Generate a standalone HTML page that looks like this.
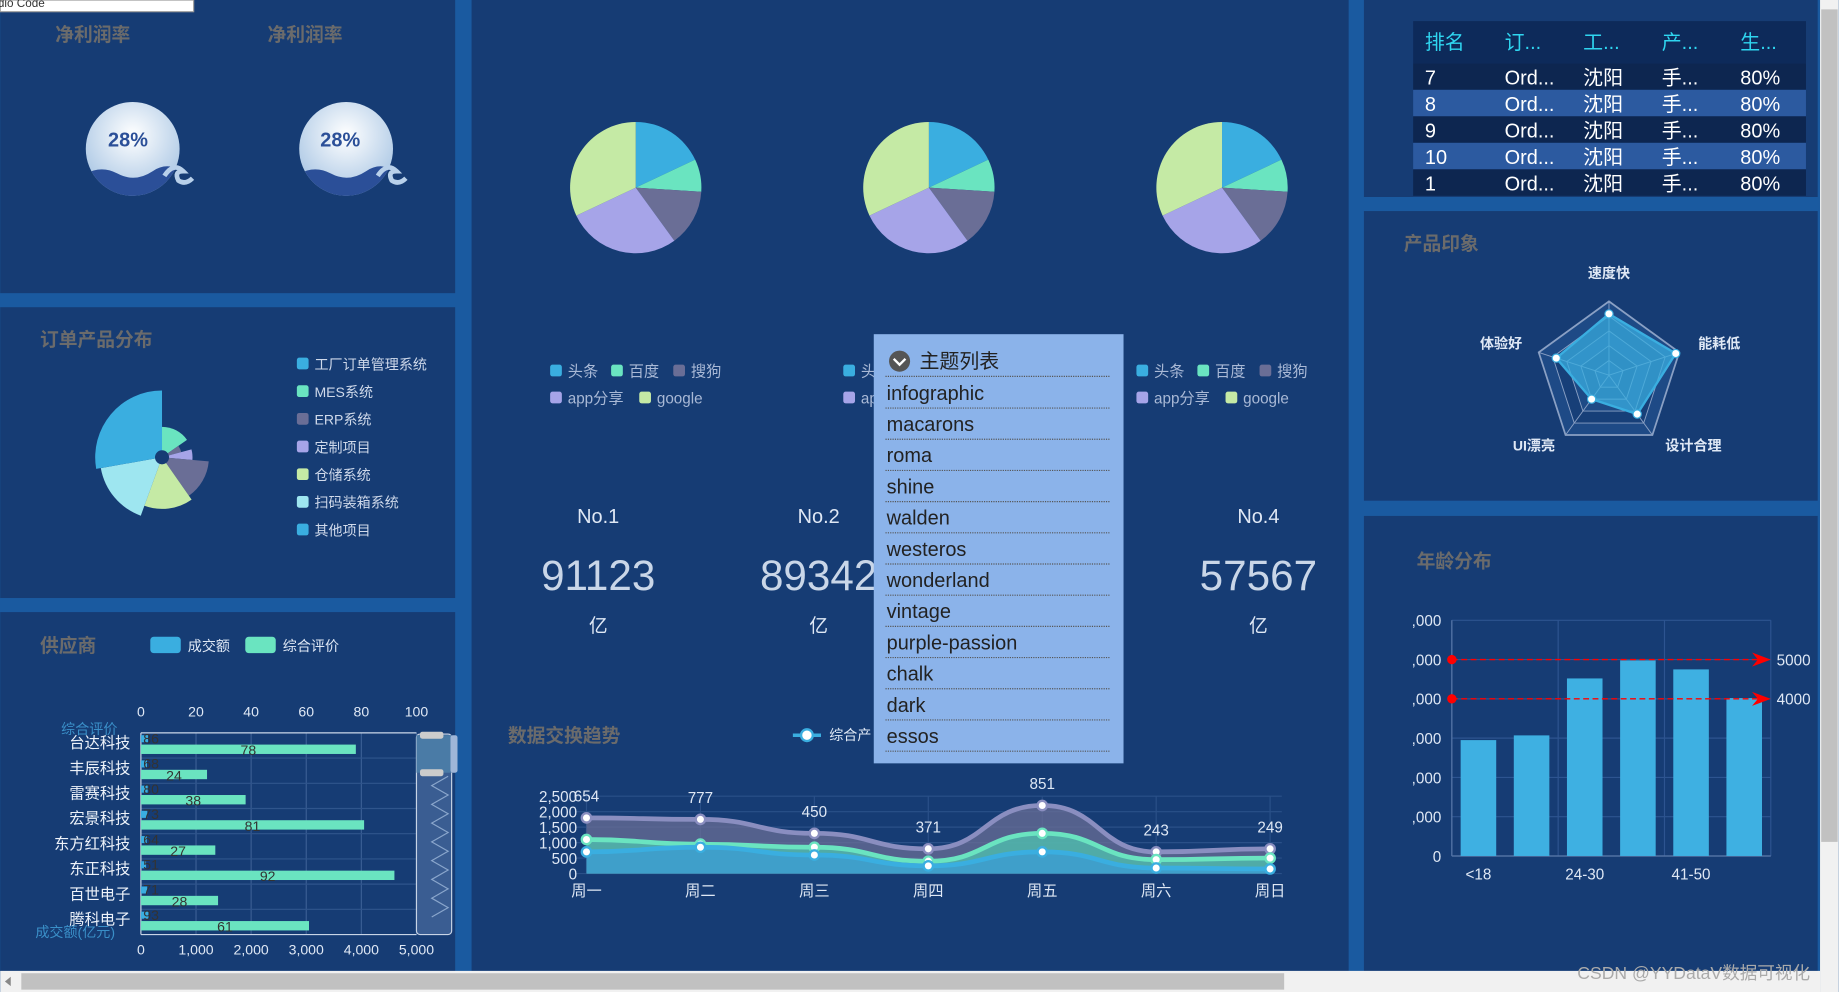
<!DOCTYPE html>
<html><head><meta charset="utf-8">
<style>
html,body{margin:0;padding:0;background:#1a5aa0;overflow:hidden;}
svg{display:block;font-family:"Liberation Sans","Noto Sans CJK SC",sans-serif;}
</style></head>
<body>
<svg id="s" width="1839" height="992" viewBox="0 0 1568 846" xmlns="http://www.w3.org/2000/svg">
<defs>
<radialGradient id="ballg" cx="50%" cy="35%" r="65%"><stop offset="0" stop-color="#ffffff"/><stop offset="1" stop-color="#a9c6e4"/></radialGradient>
<clipPath id="c1"><circle cx="113" cy="127" r="40"/></clipPath>
<clipPath id="c2"><circle cx="295" cy="127" r="40"/></clipPath>
</defs>
<rect x="0" y="0" width="1568" height="846" fill="#1a5aa0"/>
<rect x="0" y="0" width="388" height="250" fill="#163c74"/>
<rect x="0" y="262" width="388" height="248" fill="#163c74"/>
<rect x="0" y="522" width="388" height="306" fill="#163c74"/>
<rect x="402" y="0" width="748" height="828" fill="#163c74"/>
<rect x="1163" y="0" width="387" height="168" fill="#163c74"/>
<rect x="1163" y="180" width="387" height="247" fill="#163c74"/>
<rect x="1163" y="440" width="387" height="388" fill="#163c74"/>
<rect x="0" y="0" width="165" height="10" fill="#ffffff" stroke="#999"/>
<text x="-2" y="6" font-size="10" fill="#333">dio Code</text>

<g>
<text x="47" y="35" font-size="16" font-weight="bold" fill="#6b6b6b">净利润率</text>
<circle cx="113" cy="127" r="40" fill="url(#ballg)"/>
<path clip-path="url(#c1)" d="M70 150 Q85 140 100 148 T130 146 T160 150 L160 175 L70 175 Z" fill="#2b4f98"/>
<path d="M140 150 q8 -12 16 -4 q-8 0 -4 8 q6 4 12 -2" fill="none" stroke="#b8d0ea" stroke-width="4"/>
<text x="109" y="125" font-size="17" font-weight="bold" fill="#2b4f98" text-anchor="middle">28%</text>
</g>
<g>
<text x="228" y="35" font-size="16" font-weight="bold" fill="#6b6b6b">净利润率</text>
<circle cx="295" cy="127" r="40" fill="url(#ballg)"/>
<path clip-path="url(#c2)" d="M252 150 Q267 140 282 148 T312 146 T342 150 L342 175 L252 175 Z" fill="#2b4f98"/>
<path d="M322 150 q8 -12 16 -4 q-8 0 -4 8 q6 4 12 -2" fill="none" stroke="#b8d0ea" stroke-width="4"/>
<text x="290" y="125" font-size="17" font-weight="bold" fill="#2b4f98" text-anchor="middle">28%</text>
</g>

<text x="34" y="295" font-size="16" font-weight="bold" fill="#6b6b6b">订单产品分布</text>
<g id="rose"></g>

<text x="34" y="556" font-size="16" font-weight="bold" fill="#6b6b6b">供应商</text>
<g>
<rect x="128" y="543" width="26" height="14" rx="3" fill="#3aaee0"/><text x="160" y="555" font-size="12" fill="#dfe8f5">成交额</text>
<rect x="209" y="543" width="26" height="14" rx="3" fill="#6ae4c0"/><text x="241" y="555" font-size="12" fill="#dfe8f5">综合评价</text>
</g>
<g id="supplier"></g>

<g id="pies"></g>
<g id="nums"></g>

<text x="433" y="633" font-size="16" font-weight="bold" fill="#6b6b6b">数据交换趋势</text>
<g>
<line x1="676" y1="627" x2="700" y2="627" stroke="#3aaee0" stroke-width="3"/><circle cx="688" cy="627" r="5" fill="#fff" stroke="#3aaee0" stroke-width="2"/>
<text x="707" y="631" font-size="12" fill="#dfe8f5">综合产</text>
</g>
<g id="trend"></g>

<g id="popup">
<rect x="745" y="285" width="213" height="366" fill="#8bb3ea"/>
<circle cx="767" cy="308" r="9" fill="#555"/>
<path d="M762 306 l5 5 l5 -5" fill="none" stroke="#fff" stroke-width="2"/>
<text x="784" y="314" font-size="17" fill="#222">主题列表</text>
<line x1="755" y1="321" x2="947" y2="321" stroke="#555" stroke-dasharray="1,1"/>
</g>

<g id="table"></g>

<text x="1197" y="213" font-size="16" font-weight="bold" fill="#6b6b6b">产品印象</text>
<g id="radar"></g>

<text x="1208" y="484" font-size="16" font-weight="bold" fill="#6b6b6b">年龄分布</text>
<g id="age"></g>

<rect x="1552" y="0" width="16" height="846" fill="#f1f1f1"/>
<rect x="1553" y="8" width="14" height="710" fill="#c1c1c1"/>
<rect x="0" y="828" width="1552" height="18" fill="#f1f1f1"/>
<rect x="18" y="830" width="1077" height="14" fill="#c1c1c1"/>
<path d="M4 837 l5 -4 v8 z" fill="#888"/>
<text x="1345" y="835" font-size="15" fill="#aaa">CSDN @YYDataV数据可视化</text>
</svg>
<script>
const NS='http://www.w3.org/2000/svg';
function mk(p,tag,at,txt){const e=document.createElementNS(NS,tag);for(const k in at)e.setAttribute(k,at[k]);if(txt!==undefined)e.textContent=txt;p.appendChild(e);return e;}
function pt(cx,cy,r,a){const t=(a-90)*Math.PI/180;return [cx+r*Math.cos(t),cy+r*Math.sin(t)];}
function arc(cx,cy,r,a0,a1){const p0=pt(cx,cy,r,a0),p1=pt(cx,cy,r,a1);const lg=(a1-a0)>180?1:0;return `M${cx},${cy} L${p0[0]},${p0[1]} A${r},${r} 0 ${lg} 1 ${p1[0]},${p1[1]} Z`;}

/* ---- rose chart data ---- */
const roseNames=['工厂订单管理系统','MES系统','ERP系统','定制项目','仓储系统','扫码装箱系统','其他项目'];
const roseLegendColors=['#3aaee0','#6ae4c0','#6a6e96','#a6a4e8','#c5eaa5','#9ee6f0','#3aaee0'];
const roseSliceValues=[26,17,26,40,44,53,57];
const roseSliceAngles=[55,20,20,50,55,60,100];
const roseSliceColors=['#6ae4c0','#6a6e96','#a6a4e8','#6a6e96','#c5eaa5','#9ee6f0','#3aaee0'];
(function(){const g=document.getElementById('rose');let a=0;
 for(let i=0;i<roseSliceValues.length;i++){const a1=a+roseSliceAngles[i];
  const e=mk(g,'path',{d:arc(138,390,roseSliceValues[i],a,a1),fill:roseSliceColors[i]});
  
  
  a=a1;}
 mk(g,'circle',{cx:138,cy:390,r:6,fill:'#163c74'});
 for(let i=0;i<roseNames.length;i++){const y=310+i*23.6;
  const it=mk(g,'g',{});
  
  
  mk(it,'rect',{x:253,y:y-5,width:10,height:10,rx:2,fill:roseLegendColors[i]});
  mk(it,'text',{x:268,y:y+5,'font-size':12,fill:'#cfd9ea'},roseNames[i]);}
})();

/* ---- supplier chart data ---- */
const supNames=['台达科技','丰辰科技','雷赛科技','宏景科技','东方红科技','东正科技','百世电子','腾科电子'];
const supAmount=[86,68,80,73,64,51,71,93];
const supScore=[78,24,38,81,27,92,28,61];
const supTopTicks=[0,20,40,60,80,100];
const supBotTicks=['0','1,000','2,000','3,000','4,000','5,000'];
(function(){const g=document.getElementById('supplier');const x0=120,x1=355,y0=625,y1=797;const rh=(y1-y0)/supNames.length;
 const xs=v=>x0+v/100*(x1-x0), xa=v=>x0+v/5000*(x1-x0);
 for(let i=0;i<supTopTicks.length;i++){const x=xs(supTopTicks[i]);
  mk(g,'line',{x1:x,y1:y0,x2:x,y2:y1,stroke:'#3a5e94','stroke-width':1});
  mk(g,'text',{x:x,y:611,'font-size':12,fill:'#dfe8f5','text-anchor':'middle'},supTopTicks[i]);
  mk(g,'text',{x:x,y:814,'font-size':12,fill:'#dfe8f5','text-anchor':'middle'},supBotTicks[i]);}
 for(let i=0;i<=supNames.length;i++)mk(g,'line',{x1:x0,y1:y0+i*rh,x2:x1,y2:y0+i*rh,stroke:'#2f558c'});
 mk(g,'line',{x1:x0,y1:y0,x2:x1,y2:y0,stroke:'#c8d4e6'});
 mk(g,'line',{x1:x0,y1:y0,x2:x0,y2:y1,stroke:'#c8d4e6'});
 mk(g,'line',{x1:x0,y1:y1,x2:x1,y2:y1,stroke:'#c8d4e6'});
 for(let i=0;i<supNames.length;i++){const t=y0+i*rh;
  mk(g,'text',{x:111,y:t+13,'font-size':13,fill:'#eef3fa','text-anchor':'end'},supNames[i]);
  const b=mk(g,'rect',{x:x0,y:t+2,width:Math.max(2,xa(supAmount[i])-x0+2),height:6,fill:'#3aaee0'});
  
  
  mk(g,'text',{x:x0+2,y:t+9,'font-size':12,fill:'#333'},supAmount[i]);
  const s=mk(g,'rect',{x:x0,y:t+10,width:xs(supScore[i])-x0,height:8,fill:'#6ae4c0'});
  
  
  mk(g,'text',{x:(x0+xs(supScore[i]))/2,y:t+19,'font-size':12,fill:'#333','text-anchor':'middle'},supScore[i]);}
 mk(g,'text',{x:52,y:626,'font-size':12,fill:'#3a8fc8'},'综合评价');
 mk(g,'text',{x:30,y:799,'font-size':12,fill:'#3a8fc8'},'成交额(亿元)');
 const sl=mk(g,'g',{});
 
 
 mk(sl,'rect',{x:355,y:626,width:30,height:171,rx:3,fill:'#3a5d92',stroke:'#c8d4e6'});
 mk(sl,'rect',{x:355,y:627,width:30,height:32,fill:'#4a7ba6'});
 mk(sl,'rect',{x:384,y:627,width:6,height:32,rx:2,fill:'#9fb6d8'});
 mk(sl,'rect',{x:358,y:624,width:20,height:6,rx:2,fill:'#ccc'});
 mk(sl,'rect',{x:358,y:656,width:20,height:6,rx:2,fill:'#ccc'});
 mk(sl,'path',{d:'M382 662 l-14 8 l14 8 l-14 8 l14 8 l-14 8 l14 8 l-14 8 l14 8 l-14 8 l14 8 l-14 8 l14 8 l-14 8 l14 8 l-14 8',fill:'none',stroke:'#8aa6cc'});
})();

/* ---- source pies ---- */
const pieNames=['头条','百度','搜狗','app分享','google'];
const pieValues=[18,8,14,28,32];
const pieColors=['#3aaee0','#6ae4c0','#6a6e96','#a6a4e8','#c5eaa5'];
const pieCenters=[542,792,1042];
(function(){const g=document.getElementById('pies');const tot=pieValues.reduce((a,b)=>a+b,0);
 pieCenters.forEach((cx,k)=>{let a=0;
  pieValues.forEach((v,i)=>{const a1=a+v/tot*360;
   const e=mk(g,'path',{d:arc(cx,160,56,a,a1),fill:pieColors[i]});
   
   
   a=a1;});
  const lx=cx-73;const pos=[[lx,316],[lx+52,316],[lx+105,316],[lx,339],[lx+76,339]];
  pieNames.forEach((n,i)=>{const it=mk(g,'g',{});
   
   
   mk(it,'rect',{x:pos[i][0],y:pos[i][1]-5,width:10,height:10,rx:2,fill:pieColors[i]});
   mk(it,'text',{x:pos[i][0]+15,y:pos[i][1]+5,'font-size':13,fill:'#a9b9d6'},n);});
 });
})();

const rankLabels=['No.1','No.2','No.3','No.4'];
const rankValues=['91123','89342','75000','57567'];
(function(){const g=document.getElementById('nums');const xs=[510,698,885,1073];
 rankLabels.forEach((l,i)=>{
  mk(g,'text',{x:xs[i],y:446,'font-size':17,fill:'#dfe8f5','text-anchor':'middle'},l);
  const t=mk(g,'text',{x:xs[i],y:503,'font-size':36,fill:'#c9d6e8','text-anchor':'middle'},rankValues[i]);
  
  
  mk(g,'text',{x:xs[i],y:539,'font-size':16,fill:'#dfe8f5','text-anchor':'middle'},'亿');});
})();

/* ---- trend chart ---- */
const days=['周一','周二','周三','周四','周五','周六','周日'];
const trendTop=[1800,1750,1300,800,2200,700,800];
const trendMid=[1100,950,850,400,1300,450,500];
const trendLow=[700,850,600,250,700,180,150];
const trendLabels=[654,777,450,371,851,243,249];
const trendTicks=[0,500,1000,1500,2000,2500];
(function(){const g=document.getElementById('trend');const x0=500,x1=1083,yb=745,yt=679;
 const X=i=>x0+i*(x1-x0)/(days.length-1), Y=v=>yb-(v/2500)*(yb-yt);
 trendTicks.forEach(t=>{mk(g,'line',{x1:x0-10,y1:Y(t),x2:x1+10,y2:Y(t),stroke:'#2a5088'});
  mk(g,'text',{x:492,y:Y(t)+5,'font-size':13,fill:'#dfe8f5','text-anchor':'end'},t.toLocaleString('en-US'));});
 days.forEach((d,i)=>{mk(g,'line',{x1:X(i),y1:yt,x2:X(i),y2:yb,stroke:'#2a5088'});
  mk(g,'text',{x:X(i),y:764,'font-size':13,fill:'#dfe8f5','text-anchor':'middle'},d);});
 function smooth(vals){let d=`M${X(0)},${Y(vals[0])}`;for(let i=1;i<vals.length;i++){const xa=X(i-1),xb=X(i),m=(xb-xa)/2;d+=` C${xa+m},${Y(vals[i-1])} ${xb-m},${Y(vals[i])} ${xb},${Y(vals[i])}`;}return d;}
 [[trendTop,'#6a6e96','#8a8ec0','top'],[trendMid,'#4fc4b0','#6ae4c0','mid'],[trendLow,'#3a9bd6','#3aaee0','low']].forEach(s=>{
  const p=smooth(s[0]);
  const a=mk(g,'path',{d:p+` L${X(6)},${yb} L${X(0)},${yb} Z`,fill:s[1],'fill-opacity':0.75});
  
  
  const l=mk(g,'path',{d:p,fill:'none',stroke:s[2],'stroke-width':4});
  
  
  s[0].forEach((v,i)=>{const c=mk(g,'circle',{cx:X(i),cy:Y(v),r:4,fill:'#fff',stroke:s[2],'stroke-width':2});
   
   });});
 trendLabels.forEach((v,i)=>{mk(g,'text',{x:X(i),y:Y(trendTop[i])-14,'font-size':13,fill:'#dfe8f5','text-anchor':'middle'},v);});
})();

const themes=['infographic','macarons','roma','shine','walden','westeros','wonderland','vintage','purple-passion','chalk','dark','essos'];
(function(){const g=document.getElementById('popup');
 themes.forEach((t,i)=>{const y=341+i*26.6;
  const e=mk(g,'text',{x:756,y:y,'font-size':17,fill:'#222'},t);
  
  
  mk(g,'line',{x1:755,y1:y+7,x2:947,y2:y+7,stroke:'#555','stroke-dasharray':'1,1'});});
})();

const tHead=['排名','订...','工...','产...','生...'];
const tRank=['7','8','9','10','1'];
(function(){const g=document.getElementById('table');const cx=[1215,1283,1350,1417,1484];
 mk(g,'rect',{x:1205,y:18,width:335,height:36,fill:'#0d2a5a'});
 tHead.forEach((h,i)=>mk(g,'text',{x:cx[i],y:42,'font-size':17,fill:'#2fd6f0'},h));
 tRank.forEach((r,j)=>{const y=54+j*22.6;
  const row=mk(g,'g',{});
  
  
  mk(row,'rect',{x:1205,y:y,width:335,height:22.6,fill:j%2?'#2c5aa0':'#0d2650'});
  [r,'Ord...','沈阳','手...','80%'].forEach((v,i)=>mk(row,'text',{x:cx[i],y:y+18,'font-size':17,fill:'#fff'},v));});
})();

const radarNames=['速度快','能耗低','设计合理','UI漂亮','体验好'];
const radarValues=[0.83,0.95,0.65,0.4,0.75];
(function(){const g=document.getElementById('radar');const cx=1372,cy=320,R=63;
 for(let k=5;k>=1;k--){const pts=[];for(let i=0;i<5;i++){pts.push(pt(cx,cy,R*k/5,i*72).join(','));}
  mk(g,'polygon',{points:pts.join(' '),fill:k%2?'#1e4a86':'#173f78',stroke:'#8aa0c4','stroke-width':k===5?1.5:0.8});}
 for(let i=0;i<5;i++){const p=pt(cx,cy,R,i*72);mk(g,'line',{x1:cx,y1:cy,x2:p[0],y2:p[1],stroke:'#8aa0c4','stroke-width':0.8});}
 const dp=radarValues.map((v,i)=>pt(cx,cy,R*v,i*72));
 const poly=mk(g,'polygon',{points:dp.map(p=>p.join(',')).join(' '),fill:'#3aaee0','fill-opacity':0.75,stroke:'#3aaee0','stroke-width':2});
 
 
 dp.forEach(p=>mk(g,'circle',{cx:p[0],cy:p[1],r:3.5,fill:'#fff',stroke:'#3aaee0'}));
 const lp=[[1372,237],[1466,297],[1444,384],[1308,384],[1280,297]];
 radarNames.forEach((n,i)=>mk(g,'text',{x:lp[i][0],y:lp[i][1],'font-size':12,'font-weight':'bold',fill:'#dfe8f5','text-anchor':'middle'},n));
})();

const ageCats=['<18','18-23','24-30','31-40','41-50','>50'];
const ageValues=[2950,3070,4520,4980,4750,4020];
const ageTicks=[0,1000,2000,3000,4000,5000,6000];
const ageMarks=[5000,4000];
(function(){const g=document.getElementById('age');const x0=1238,x1=1510,yb=730,yt=529;
 const Y=v=>yb-v/6000*(yb-yt);const bw=(x1-x0)/ageCats.length;
 ageTicks.forEach(t=>{mk(g,'line',{x1:x0,y1:Y(t),x2:x1,y2:Y(t),stroke:'#2d5490'});
  mk(g,'text',{x:1229,y:Y(t)+5,'font-size':13,fill:'#dfe8f5','text-anchor':'end'},t===0?'0':',000');});
 [0,2,4,6].forEach(i=>mk(g,'line',{x1:x0+i*bw,y1:yt,x2:x0+i*bw,y2:yb,stroke:'#2d5490'}));
 mk(g,'line',{x1:x0,y1:yt,x2:x0,y2:yb,stroke:'#5a78a8'});
 mk(g,'line',{x1:x0,y1:yb,x2:x1,y2:yb,stroke:'#5a78a8'});
 ageValues.forEach((v,i)=>{const b=mk(g,'rect',{x:x0+i*bw+7.5,y:Y(v),width:bw-15,height:yb-Y(v),fill:'#3eb0e2'});
  
  });
 ageCats.forEach((c,i)=>{if(i%2===0)mk(g,'text',{x:x0+i*bw+bw/2,y:750,'font-size':13,fill:'#dfe8f5','text-anchor':'middle'},c);});
 ageMarks.forEach(m=>{const y=Y(m);
  const l=mk(g,'line',{x1:x0,y1:y,x2:x1-6,y2:y,stroke:'#ff0000','stroke-dasharray':'5,3','stroke-width':1.2});
  
  
  mk(g,'circle',{cx:x0,cy:y,r:4,fill:'#ff0000'});
  mk(g,'path',{d:`M${x1} ${y} l-16 -6 l5 6 l-5 6 z`,fill:'#ff0000'});
  mk(g,'text',{x:1515,y:y+5,'font-size':13,fill:'#dfe8f5'},m);});
})();
</script>
</body></html>
